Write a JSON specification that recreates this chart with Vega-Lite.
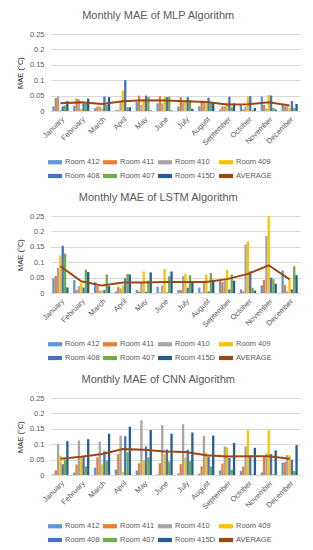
{
  "$schema": "https://vega.github.io/schema/vega-lite/v6.json",
  "padding": {"left": 16, "top": 10, "right": 6, "bottom": 5},
  "background": "white",
  "spacing": 12,
  "datasets": {
    "mae": [
      {"model":"MLP","month":"January","series":"Room 412","value":0.015},{"model":"MLP","month":"January","series":"Room 411","value":0.042},{"model":"MLP","month":"January","series":"Room 410","value":0.047},{"model":"MLP","month":"January","series":"Room 409","value":0.004},{"model":"MLP","month":"January","series":"Room 408","value":0.015},{"model":"MLP","month":"January","series":"Room 407","value":0.018},{"model":"MLP","month":"January","series":"Room 415D","value":0.032},{"model":"MLP","month":"January","series":"AVERAGE","value":0.025},
      {"model":"MLP","month":"February","series":"Room 412","value":0.017},{"model":"MLP","month":"February","series":"Room 411","value":0.040},{"model":"MLP","month":"February","series":"Room 410","value":0.038},{"model":"MLP","month":"February","series":"Room 409","value":0.008},{"model":"MLP","month":"February","series":"Room 408","value":0.025},{"model":"MLP","month":"February","series":"Room 407","value":0.025},{"model":"MLP","month":"February","series":"Room 415D","value":0.040},{"model":"MLP","month":"February","series":"AVERAGE","value":0.028},
      {"model":"MLP","month":"March","series":"Room 412","value":0.009},{"model":"MLP","month":"March","series":"Room 411","value":0.014},{"model":"MLP","month":"March","series":"Room 410","value":0.015},{"model":"MLP","month":"March","series":"Room 409","value":0.010},{"model":"MLP","month":"March","series":"Room 408","value":0.047},{"model":"MLP","month":"March","series":"Room 407","value":0.020},{"model":"MLP","month":"March","series":"Room 415D","value":0.045},{"model":"MLP","month":"March","series":"AVERAGE","value":0.023},
      {"model":"MLP","month":"April","series":"Room 412","value":0.002},{"model":"MLP","month":"April","series":"Room 411","value":0.003},{"model":"MLP","month":"April","series":"Room 410","value":0.030},{"model":"MLP","month":"April","series":"Room 409","value":0.066},{"model":"MLP","month":"April","series":"Room 408","value":0.100},{"model":"MLP","month":"April","series":"Room 407","value":0.012},{"model":"MLP","month":"April","series":"Room 415D","value":0.012},{"model":"MLP","month":"April","series":"AVERAGE","value":0.032},
      {"model":"MLP","month":"May","series":"Room 412","value":0.030},{"model":"MLP","month":"May","series":"Room 411","value":0.050},{"model":"MLP","month":"May","series":"Room 410","value":0.020},{"model":"MLP","month":"May","series":"Room 409","value":0.035},{"model":"MLP","month":"May","series":"Room 408","value":0.050},{"model":"MLP","month":"May","series":"Room 407","value":0.046},{"model":"MLP","month":"May","series":"Room 415D","value":0.002},{"model":"MLP","month":"May","series":"AVERAGE","value":0.035},
      {"model":"MLP","month":"June","series":"Room 412","value":0.025},{"model":"MLP","month":"June","series":"Room 411","value":0.048},{"model":"MLP","month":"June","series":"Room 410","value":0.025},{"model":"MLP","month":"June","series":"Room 409","value":0.045},{"model":"MLP","month":"June","series":"Room 408","value":0.045},{"model":"MLP","month":"June","series":"Room 407","value":0.047},{"model":"MLP","month":"June","series":"Room 415D","value":0.002},{"model":"MLP","month":"June","series":"AVERAGE","value":0.034},
      {"model":"MLP","month":"July","series":"Room 412","value":0.015},{"model":"MLP","month":"July","series":"Room 411","value":0.045},{"model":"MLP","month":"July","series":"Room 410","value":0.028},{"model":"MLP","month":"July","series":"Room 409","value":0.030},{"model":"MLP","month":"July","series":"Room 408","value":0.045},{"model":"MLP","month":"July","series":"Room 407","value":0.035},{"model":"MLP","month":"July","series":"Room 415D","value":0.007},{"model":"MLP","month":"July","series":"AVERAGE","value":0.032},
      {"model":"MLP","month":"August","series":"Room 412","value":0.015},{"model":"MLP","month":"August","series":"Room 411","value":0.033},{"model":"MLP","month":"August","series":"Room 410","value":0.030},{"model":"MLP","month":"August","series":"Room 409","value":0.025},{"model":"MLP","month":"August","series":"Room 408","value":0.043},{"model":"MLP","month":"August","series":"Room 407","value":0.030},{"model":"MLP","month":"August","series":"Room 415D","value":0.028},{"model":"MLP","month":"August","series":"AVERAGE","value":0.029},
      {"model":"MLP","month":"September","series":"Room 412","value":0.005},{"model":"MLP","month":"September","series":"Room 411","value":0.015},{"model":"MLP","month":"September","series":"Room 410","value":0.015},{"model":"MLP","month":"September","series":"Room 409","value":0.028},{"model":"MLP","month":"September","series":"Room 408","value":0.046},{"model":"MLP","month":"September","series":"Room 407","value":0.012},{"model":"MLP","month":"September","series":"Room 415D","value":0.025},{"model":"MLP","month":"September","series":"AVERAGE","value":0.021},
      {"model":"MLP","month":"October","series":"Room 412","value":0.020},{"model":"MLP","month":"October","series":"Room 411","value":0.005},{"model":"MLP","month":"October","series":"Room 410","value":0.015},{"model":"MLP","month":"October","series":"Room 409","value":0.047},{"model":"MLP","month":"October","series":"Room 408","value":0.048},{"model":"MLP","month":"October","series":"Room 407","value":0.003},{"model":"MLP","month":"October","series":"Room 415D","value":0.010},{"model":"MLP","month":"October","series":"AVERAGE","value":0.022},
      {"model":"MLP","month":"November","series":"Room 412","value":0.047},{"model":"MLP","month":"November","series":"Room 411","value":0.020},{"model":"MLP","month":"November","series":"Room 410","value":0.008},{"model":"MLP","month":"November","series":"Room 409","value":0.052},{"model":"MLP","month":"November","series":"Room 408","value":0.050},{"model":"MLP","month":"November","series":"Room 407","value":0.010},{"model":"MLP","month":"November","series":"Room 415D","value":0.005},{"model":"MLP","month":"November","series":"AVERAGE","value":0.028},
      {"model":"MLP","month":"December","series":"Room 412","value":0.020},{"model":"MLP","month":"December","series":"Room 411","value":0.015},{"model":"MLP","month":"December","series":"Room 410","value":0.015},{"model":"MLP","month":"December","series":"Room 409","value":0.010},{"model":"MLP","month":"December","series":"Room 408","value":0.032},{"model":"MLP","month":"December","series":"Room 407","value":0.010},{"model":"MLP","month":"December","series":"Room 415D","value":0.023},{"model":"MLP","month":"December","series":"AVERAGE","value":0.018},

      {"model":"LSTM","month":"January","series":"Room 412","value":0.048},{"model":"LSTM","month":"January","series":"Room 411","value":0.055},{"model":"LSTM","month":"January","series":"Room 410","value":0.082},{"model":"LSTM","month":"January","series":"Room 409","value":0.122},{"model":"LSTM","month":"January","series":"Room 408","value":0.153},{"model":"LSTM","month":"January","series":"Room 407","value":0.128},{"model":"LSTM","month":"January","series":"Room 415D","value":0.018},{"model":"LSTM","month":"January","series":"AVERAGE","value":0.087},
      {"model":"LSTM","month":"February","series":"Room 412","value":0.042},{"model":"LSTM","month":"February","series":"Room 411","value":0.010},{"model":"LSTM","month":"February","series":"Room 410","value":0.022},{"model":"LSTM","month":"February","series":"Room 409","value":0.032},{"model":"LSTM","month":"February","series":"Room 408","value":0.018},{"model":"LSTM","month":"February","series":"Room 407","value":0.076},{"model":"LSTM","month":"February","series":"Room 415D","value":0.068},{"model":"LSTM","month":"February","series":"AVERAGE","value":0.038},
      {"model":"LSTM","month":"March","series":"Room 412","value":0.035},{"model":"LSTM","month":"March","series":"Room 411","value":0.025},{"model":"LSTM","month":"March","series":"Room 410","value":0.008},{"model":"LSTM","month":"March","series":"Room 409","value":0.008},{"model":"LSTM","month":"March","series":"Room 408","value":0.010},{"model":"LSTM","month":"March","series":"Room 407","value":0.060},{"model":"LSTM","month":"March","series":"Room 415D","value":0.022},{"model":"LSTM","month":"March","series":"AVERAGE","value":0.024},
      {"model":"LSTM","month":"April","series":"Room 412","value":0.005},{"model":"LSTM","month":"April","series":"Room 411","value":0.020},{"model":"LSTM","month":"April","series":"Room 410","value":0.015},{"model":"LSTM","month":"April","series":"Room 409","value":0.025},{"model":"LSTM","month":"April","series":"Room 408","value":0.048},{"model":"LSTM","month":"April","series":"Room 407","value":0.062},{"model":"LSTM","month":"April","series":"Room 415D","value":0.060},{"model":"LSTM","month":"April","series":"AVERAGE","value":0.034},
      {"model":"LSTM","month":"May","series":"Room 412","value":0.010},{"model":"LSTM","month":"May","series":"Room 411","value":0.005},{"model":"LSTM","month":"May","series":"Room 410","value":0.035},{"model":"LSTM","month":"May","series":"Room 409","value":0.070},{"model":"LSTM","month":"May","series":"Room 408","value":0.004},{"model":"LSTM","month":"May","series":"Room 407","value":0.040},{"model":"LSTM","month":"May","series":"Room 415D","value":0.067},{"model":"LSTM","month":"May","series":"AVERAGE","value":0.034},
      {"model":"LSTM","month":"June","series":"Room 412","value":0.020},{"model":"LSTM","month":"June","series":"Room 411","value":0.002},{"model":"LSTM","month":"June","series":"Room 410","value":0.025},{"model":"LSTM","month":"June","series":"Room 409","value":0.078},{"model":"LSTM","month":"June","series":"Room 408","value":0.002},{"model":"LSTM","month":"June","series":"Room 407","value":0.054},{"model":"LSTM","month":"June","series":"Room 415D","value":0.070},{"model":"LSTM","month":"June","series":"AVERAGE","value":0.036},
      {"model":"LSTM","month":"July","series":"Room 412","value":0.010},{"model":"LSTM","month":"July","series":"Room 411","value":0.010},{"model":"LSTM","month":"July","series":"Room 410","value":0.055},{"model":"LSTM","month":"July","series":"Room 409","value":0.063},{"model":"LSTM","month":"July","series":"Room 408","value":0.017},{"model":"LSTM","month":"July","series":"Room 407","value":0.058},{"model":"LSTM","month":"July","series":"Room 415D","value":0.038},{"model":"LSTM","month":"July","series":"AVERAGE","value":0.036},
      {"model":"LSTM","month":"August","series":"Room 412","value":0.018},{"model":"LSTM","month":"August","series":"Room 411","value":0.002},{"model":"LSTM","month":"August","series":"Room 410","value":0.040},{"model":"LSTM","month":"August","series":"Room 409","value":0.060},{"model":"LSTM","month":"August","series":"Room 408","value":0.005},{"model":"LSTM","month":"August","series":"Room 407","value":0.065},{"model":"LSTM","month":"August","series":"Room 415D","value":0.043},{"model":"LSTM","month":"August","series":"AVERAGE","value":0.036},
      {"model":"LSTM","month":"September","series":"Room 412","value":0.040},{"model":"LSTM","month":"September","series":"Room 411","value":0.035},{"model":"LSTM","month":"September","series":"Room 410","value":0.040},{"model":"LSTM","month":"September","series":"Room 409","value":0.075},{"model":"LSTM","month":"September","series":"Room 408","value":0.012},{"model":"LSTM","month":"September","series":"Room 407","value":0.060},{"model":"LSTM","month":"September","series":"Room 415D","value":0.040},{"model":"LSTM","month":"September","series":"AVERAGE","value":0.045},
      {"model":"LSTM","month":"October","series":"Room 412","value":0.012},{"model":"LSTM","month":"October","series":"Room 411","value":0.005},{"model":"LSTM","month":"October","series":"Room 410","value":0.157},{"model":"LSTM","month":"October","series":"Room 409","value":0.168},{"model":"LSTM","month":"October","series":"Room 408","value":0.070},{"model":"LSTM","month":"October","series":"Room 407","value":0.017},{"model":"LSTM","month":"October","series":"Room 415D","value":0.008},{"model":"LSTM","month":"October","series":"AVERAGE","value":0.062},
      {"model":"LSTM","month":"November","series":"Room 412","value":0.025},{"model":"LSTM","month":"November","series":"Room 411","value":0.042},{"model":"LSTM","month":"November","series":"Room 410","value":0.185},{"model":"LSTM","month":"November","series":"Room 409","value":0.250},{"model":"LSTM","month":"November","series":"Room 408","value":0.050},{"model":"LSTM","month":"November","series":"Room 407","value":0.045},{"model":"LSTM","month":"November","series":"Room 415D","value":0.030},{"model":"LSTM","month":"November","series":"AVERAGE","value":0.090},
      {"model":"LSTM","month":"December","series":"Room 412","value":0.073},{"model":"LSTM","month":"December","series":"Room 411","value":0.026},{"model":"LSTM","month":"December","series":"Room 410","value":0.005},{"model":"LSTM","month":"December","series":"Room 409","value":0.045},{"model":"LSTM","month":"December","series":"Room 408","value":0.012},{"model":"LSTM","month":"December","series":"Room 407","value":0.087},{"model":"LSTM","month":"December","series":"Room 415D","value":0.058},{"model":"LSTM","month":"December","series":"AVERAGE","value":0.044},

      {"model":"CNN","month":"January","series":"Room 412","value":0.002},{"model":"CNN","month":"January","series":"Room 411","value":0.015},{"model":"CNN","month":"January","series":"Room 410","value":0.100},{"model":"CNN","month":"January","series":"Room 409","value":0.063},{"model":"CNN","month":"January","series":"Room 408","value":0.035},{"model":"CNN","month":"January","series":"Room 407","value":0.050},{"model":"CNN","month":"January","series":"Room 415D","value":0.110},{"model":"CNN","month":"January","series":"AVERAGE","value":0.053},
      {"model":"CNN","month":"February","series":"Room 412","value":0.008},{"model":"CNN","month":"February","series":"Room 411","value":0.034},{"model":"CNN","month":"February","series":"Room 410","value":0.112},{"model":"CNN","month":"February","series":"Room 409","value":0.055},{"model":"CNN","month":"February","series":"Room 408","value":0.058},{"model":"CNN","month":"February","series":"Room 407","value":0.028},{"model":"CNN","month":"February","series":"Room 415D","value":0.116},{"model":"CNN","month":"February","series":"AVERAGE","value":0.059},
      {"model":"CNN","month":"March","series":"Room 412","value":0.024},{"model":"CNN","month":"March","series":"Room 411","value":0.058},{"model":"CNN","month":"March","series":"Room 410","value":0.108},{"model":"CNN","month":"March","series":"Room 409","value":0.035},{"model":"CNN","month":"March","series":"Room 408","value":0.077},{"model":"CNN","month":"March","series":"Room 407","value":0.047},{"model":"CNN","month":"March","series":"Room 415D","value":0.134},{"model":"CNN","month":"March","series":"AVERAGE","value":0.068},
      {"model":"CNN","month":"April","series":"Room 412","value":0.018},{"model":"CNN","month":"April","series":"Room 411","value":0.068},{"model":"CNN","month":"April","series":"Room 410","value":0.128},{"model":"CNN","month":"April","series":"Room 409","value":0.010},{"model":"CNN","month":"April","series":"Room 408","value":0.126},{"model":"CNN","month":"April","series":"Room 407","value":0.074},{"model":"CNN","month":"April","series":"Room 415D","value":0.157},{"model":"CNN","month":"April","series":"AVERAGE","value":0.084},
      {"model":"CNN","month":"May","series":"Room 412","value":0.015},{"model":"CNN","month":"May","series":"Room 411","value":0.038},{"model":"CNN","month":"May","series":"Room 410","value":0.178},{"model":"CNN","month":"May","series":"Room 409","value":0.048},{"model":"CNN","month":"May","series":"Room 408","value":0.093},{"model":"CNN","month":"May","series":"Room 407","value":0.057},{"model":"CNN","month":"May","series":"Room 415D","value":0.146},{"model":"CNN","month":"May","series":"AVERAGE","value":0.082},
      {"model":"CNN","month":"June","series":"Room 412","value":0.002},{"model":"CNN","month":"June","series":"Room 411","value":0.038},{"model":"CNN","month":"June","series":"Room 410","value":0.162},{"model":"CNN","month":"June","series":"Room 409","value":0.068},{"model":"CNN","month":"June","series":"Room 408","value":0.083},{"model":"CNN","month":"June","series":"Room 407","value":0.044},{"model":"CNN","month":"June","series":"Room 415D","value":0.134},{"model":"CNN","month":"June","series":"AVERAGE","value":0.076},
      {"model":"CNN","month":"July","series":"Room 412","value":0.005},{"model":"CNN","month":"July","series":"Room 411","value":0.035},{"model":"CNN","month":"July","series":"Room 410","value":0.165},{"model":"CNN","month":"July","series":"Room 409","value":0.057},{"model":"CNN","month":"July","series":"Room 408","value":0.082},{"model":"CNN","month":"July","series":"Room 407","value":0.045},{"model":"CNN","month":"July","series":"Room 415D","value":0.138},{"model":"CNN","month":"July","series":"AVERAGE","value":0.075},
      {"model":"CNN","month":"August","series":"Room 412","value":0.005},{"model":"CNN","month":"August","series":"Room 411","value":0.028},{"model":"CNN","month":"August","series":"Room 410","value":0.127},{"model":"CNN","month":"August","series":"Room 409","value":0.073},{"model":"CNN","month":"August","series":"Room 408","value":0.060},{"model":"CNN","month":"August","series":"Room 407","value":0.028},{"model":"CNN","month":"August","series":"Room 415D","value":0.128},{"model":"CNN","month":"August","series":"AVERAGE","value":0.064},
      {"model":"CNN","month":"September","series":"Room 412","value":0.015},{"model":"CNN","month":"September","series":"Room 411","value":0.037},{"model":"CNN","month":"September","series":"Room 410","value":0.093},{"model":"CNN","month":"September","series":"Room 409","value":0.090},{"model":"CNN","month":"September","series":"Room 408","value":0.055},{"model":"CNN","month":"September","series":"Room 407","value":0.017},{"model":"CNN","month":"September","series":"Room 415D","value":0.104},{"model":"CNN","month":"September","series":"AVERAGE","value":0.060},
      {"model":"CNN","month":"October","series":"Room 412","value":0.013},{"model":"CNN","month":"October","series":"Room 411","value":0.028},{"model":"CNN","month":"October","series":"Room 410","value":0.093},{"model":"CNN","month":"October","series":"Room 409","value":0.145},{"model":"CNN","month":"October","series":"Room 408","value":0.060},{"model":"CNN","month":"October","series":"Room 407","value":0.002},{"model":"CNN","month":"October","series":"Room 415D","value":0.088},{"model":"CNN","month":"October","series":"AVERAGE","value":0.061},
      {"model":"CNN","month":"November","series":"Room 412","value":0.008},{"model":"CNN","month":"November","series":"Room 411","value":0.058},{"model":"CNN","month":"November","series":"Room 410","value":0.070},{"model":"CNN","month":"November","series":"Room 409","value":0.145},{"model":"CNN","month":"November","series":"Room 408","value":0.068},{"model":"CNN","month":"November","series":"Room 407","value":0.002},{"model":"CNN","month":"November","series":"Room 415D","value":0.080},{"model":"CNN","month":"November","series":"AVERAGE","value":0.061},
      {"model":"CNN","month":"December","series":"Room 412","value":0.040},{"model":"CNN","month":"December","series":"Room 411","value":0.042},{"model":"CNN","month":"December","series":"Room 410","value":0.065},{"model":"CNN","month":"December","series":"Room 409","value":0.063},{"model":"CNN","month":"December","series":"Room 408","value":0.050},{"model":"CNN","month":"December","series":"Room 407","value":0.013},{"model":"CNN","month":"December","series":"Room 415D","value":0.097},{"model":"CNN","month":"December","series":"AVERAGE","value":0.053}
    ]
  },
  "data": {"name": "mae"},
  "vconcat": [
    {
      "title": {"text": "Monthly MAE of MLP Algorithm", "frame": "bounds"},
      "width": 250, "height": 77,
      "transform": [{"filter": "datum.model === 'MLP'"}],
      "encoding": {
        "x": {"field": "month", "type": "nominal", "sort": ["January","February","March","April","May","June","July","August","September","October","November","December"], "scale": {"paddingInner": 0.22, "paddingOuter": 0.11}, "axis": {"title": null, "labelAngle": -45}},
        "y": {"field": "value", "type": "quantitative", "scale": {"domain": [0, 0.25], "nice": false}, "axis": {"title": "MAE (°C)", "values": [0,0.05,0.1,0.15,0.2,0.25], "format": "~g"}}
      },
      "layer": [
        {"transform": [{"filter": "datum.series !== 'AVERAGE'"}], "mark": {"type": "bar"},
         "encoding": {
           "xOffset": {"field": "series", "type": "nominal", "sort": ["Room 412","Room 411","Room 410","Room 409","Room 408","Room 407","Room 415D"]},
           "color": {"field": "series", "type": "nominal", "scale": {"domain": ["Room 412","Room 411","Room 410","Room 409","Room 408","Room 407","Room 415D","AVERAGE"], "range": ["#5B9BD5","#ED7D31","#A5A5A5","#FFC000","#4472C4","#70AD47","#255E91","#9E480E"]}}
         }},
        {"transform": [{"filter": "datum.series === 'AVERAGE'"}], "mark": {"type": "line", "strokeWidth": 2},
         "encoding": {"color": {"field": "series", "type": "nominal"}}}
      ]
    },
    {
      "title": {"text": "Monthly MAE of LSTM Algorithm", "frame": "bounds"},
      "width": 250, "height": 77,
      "transform": [{"filter": "datum.model === 'LSTM'"}],
      "encoding": {
        "x": {"field": "month", "type": "nominal", "sort": ["January","February","March","April","May","June","July","August","September","October","November","December"], "scale": {"paddingInner": 0.22, "paddingOuter": 0.11}, "axis": {"title": null, "labelAngle": -45}},
        "y": {"field": "value", "type": "quantitative", "scale": {"domain": [0, 0.25], "nice": false}, "axis": {"title": "MAE (°C)", "values": [0,0.05,0.1,0.15,0.2,0.25], "format": "~g"}}
      },
      "layer": [
        {"transform": [{"filter": "datum.series !== 'AVERAGE'"}], "mark": {"type": "bar"},
         "encoding": {
           "xOffset": {"field": "series", "type": "nominal", "sort": ["Room 412","Room 411","Room 410","Room 409","Room 408","Room 407","Room 415D"]},
           "color": {"field": "series", "type": "nominal", "scale": {"domain": ["Room 412","Room 411","Room 410","Room 409","Room 408","Room 407","Room 415D","AVERAGE"], "range": ["#5B9BD5","#ED7D31","#A5A5A5","#FFC000","#4472C4","#70AD47","#255E91","#9E480E"]}}
         }},
        {"transform": [{"filter": "datum.series === 'AVERAGE'"}], "mark": {"type": "line", "strokeWidth": 2},
         "encoding": {"color": {"field": "series", "type": "nominal"}}}
      ]
    },
    {
      "title": {"text": "Monthly MAE of CNN Algorithm", "frame": "bounds"},
      "width": 250, "height": 77,
      "transform": [{"filter": "datum.model === 'CNN'"}],
      "encoding": {
        "x": {"field": "month", "type": "nominal", "sort": ["January","February","March","April","May","June","July","August","September","October","November","December"], "scale": {"paddingInner": 0.22, "paddingOuter": 0.11}, "axis": {"title": null, "labelAngle": -45}},
        "y": {"field": "value", "type": "quantitative", "scale": {"domain": [0, 0.25], "nice": false}, "axis": {"title": "MAE (°C)", "values": [0,0.05,0.1,0.15,0.2,0.25], "format": "~g"}}
      },
      "layer": [
        {"transform": [{"filter": "datum.series !== 'AVERAGE'"}], "mark": {"type": "bar"},
         "encoding": {
           "xOffset": {"field": "series", "type": "nominal", "sort": ["Room 412","Room 411","Room 410","Room 409","Room 408","Room 407","Room 415D"]},
           "color": {"field": "series", "type": "nominal", "scale": {"domain": ["Room 412","Room 411","Room 410","Room 409","Room 408","Room 407","Room 415D","AVERAGE"], "range": ["#5B9BD5","#ED7D31","#A5A5A5","#FFC000","#4472C4","#70AD47","#255E91","#9E480E"]}}
         }},
        {"transform": [{"filter": "datum.series === 'AVERAGE'"}], "mark": {"type": "line", "strokeWidth": 2},
         "encoding": {"color": {"field": "series", "type": "nominal"}}}
      ]
    }
  ],
  "resolve": {"scale": {"color": "independent"}, "legend": {"color": "independent"}},
  "config": {
    "font": "Liberation Sans",
    "view": {"stroke": null},
    "title": {"fontSize": 11, "fontWeight": "normal", "color": "#595959", "font": "Liberation Sans", "offset": 9},
    "axis": {"labelFontSize": 7.5, "labelColor": "#595959", "titleFontSize": 7.5, "titleFontWeight": "normal", "titleColor": "#262626", "gridColor": "#D9D9D9", "ticks": false, "domainColor": "#D9D9D9", "labelPadding": 3},
    "axisY": {"domain": false, "titlePadding": 5, "labelPadding": 6},
    "axisX": {"grid": false, "labelPadding": 4},
    "legend": {
      "orient": "none", "legendX": -2, "legendY": 121, "direction": "horizontal",
      "columns": 4, "title": null, "labelFontSize": 7.5, "labelColor": "#595959",
      "symbolType": "M-1,-0.3H1V0.3H-1Z", "symbolSize": 196, "symbolStrokeWidth": 0,
      "rowPadding": 3, "columnPadding": 3, "labelOffset": 3,
      "encode": {"symbols": {"update": {"shape": {"signal": "datum.value === 'AVERAGE' ? 'M-1,-0.13H1V0.13H-1Z' : 'M-1,-0.3H1V0.3H-1Z'"}}}}
    }
  }
}
